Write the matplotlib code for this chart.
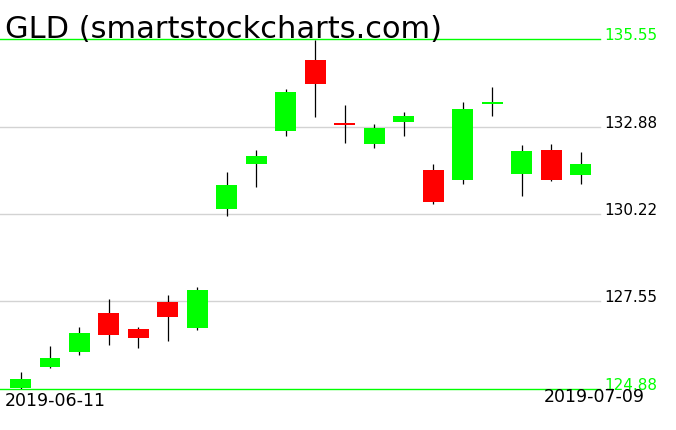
import matplotlib.pyplot as plt
from matplotlib.transforms import blended_transform_factory

# Daily GLD candles, 2019-06-11 .. 2019-07-09
opens = [124.91, 125.55, 126.01, 127.20, 126.71, 127.53, 126.75, 130.37, 131.75, 132.75,
         134.91, 133.00, 132.35, 133.03, 131.56, 131.25, 133.56, 131.44, 132.17, 131.41]
closes = [125.18, 125.83, 126.59, 126.53, 126.44, 127.08, 127.90, 131.10, 131.98, 133.93,
          134.19, 132.94, 132.85, 133.20, 130.59, 133.42, 133.62, 132.14, 131.25, 131.74]
highs = [125.40, 126.19, 126.77, 127.62, 126.77, 127.75, 127.99, 131.50, 132.17, 134.03,
         135.53, 133.54, 132.95, 133.33, 131.74, 133.63, 134.09, 132.33, 132.36, 132.11]
lows = [124.88, 125.53, 125.93, 126.23, 126.14, 126.35, 126.69, 130.16, 131.05, 132.59,
        133.18, 132.39, 132.24, 132.60, 130.53, 131.13, 133.21, 130.77, 131.22, 131.14]

price_levels = [124.88, 127.55, 130.22, 132.88, 135.55]
date_labels = ["2019-06-11", "2019-07-09"]
title = "GLD (smartstockcharts.com)"

W, H = 676, 431
fig = plt.figure(figsize=(W / 100, H / 100), dpi=100)
fig.patch.set_facecolor("white")

# plot area: x 0..600 px, y 40..390 px
ax = fig.add_axes([0, (H - 390) / H, 600 / W, 350 / H])
ax.set_xlim(-0.696, 19.66)
ax.set_ylim(price_levels[0], price_levels[-1])
ax.axis("off")

# horizontal levels, green at the extremes
for i, lvl in enumerate(price_levels):
    edge = i in (0, len(price_levels) - 1)
    ax.axhline(lvl, color="#00ff00" if edge else "#d3d3d3", lw=1.0, zorder=1, clip_on=False)

trans = blended_transform_factory(ax.transAxes, ax.transData)
for i, lvl in enumerate(price_levels):
    edge = i in (0, len(price_levels) - 1)
    ax.text(1.008, lvl, f"{lvl:.2f}", transform=trans, ha="left", va="baseline",
            fontsize=11, color="#00ff00" if edge else "black")

xs = list(range(len(opens)))
ax.vlines(xs, lows, highs, color="black", lw=0.9, zorder=2)

for x, o, c in zip(xs, opens, closes):
    color = "#00ff00" if c >= o else "#ff0000"
    bottom = min(o, c)
    height = max(abs(c - o), 0.06)
    ax.bar(x, height, bottom=bottom, width=0.71, color=color, zorder=3, linewidth=0)

fig.text(5 / W, 1 - 38 / H, title, ha="left", va="baseline", fontsize=22, color="black")
fig.text(5 / W, 1 - 406 / H, date_labels[0], ha="left", va="baseline", fontsize=12.5, color="black")
fig.text(645 / W, 1 - 402 / H, date_labels[1], ha="right", va="baseline", fontsize=12.5, color="black")

fig.savefig("out.png", dpi=100)
plt.close(fig)
